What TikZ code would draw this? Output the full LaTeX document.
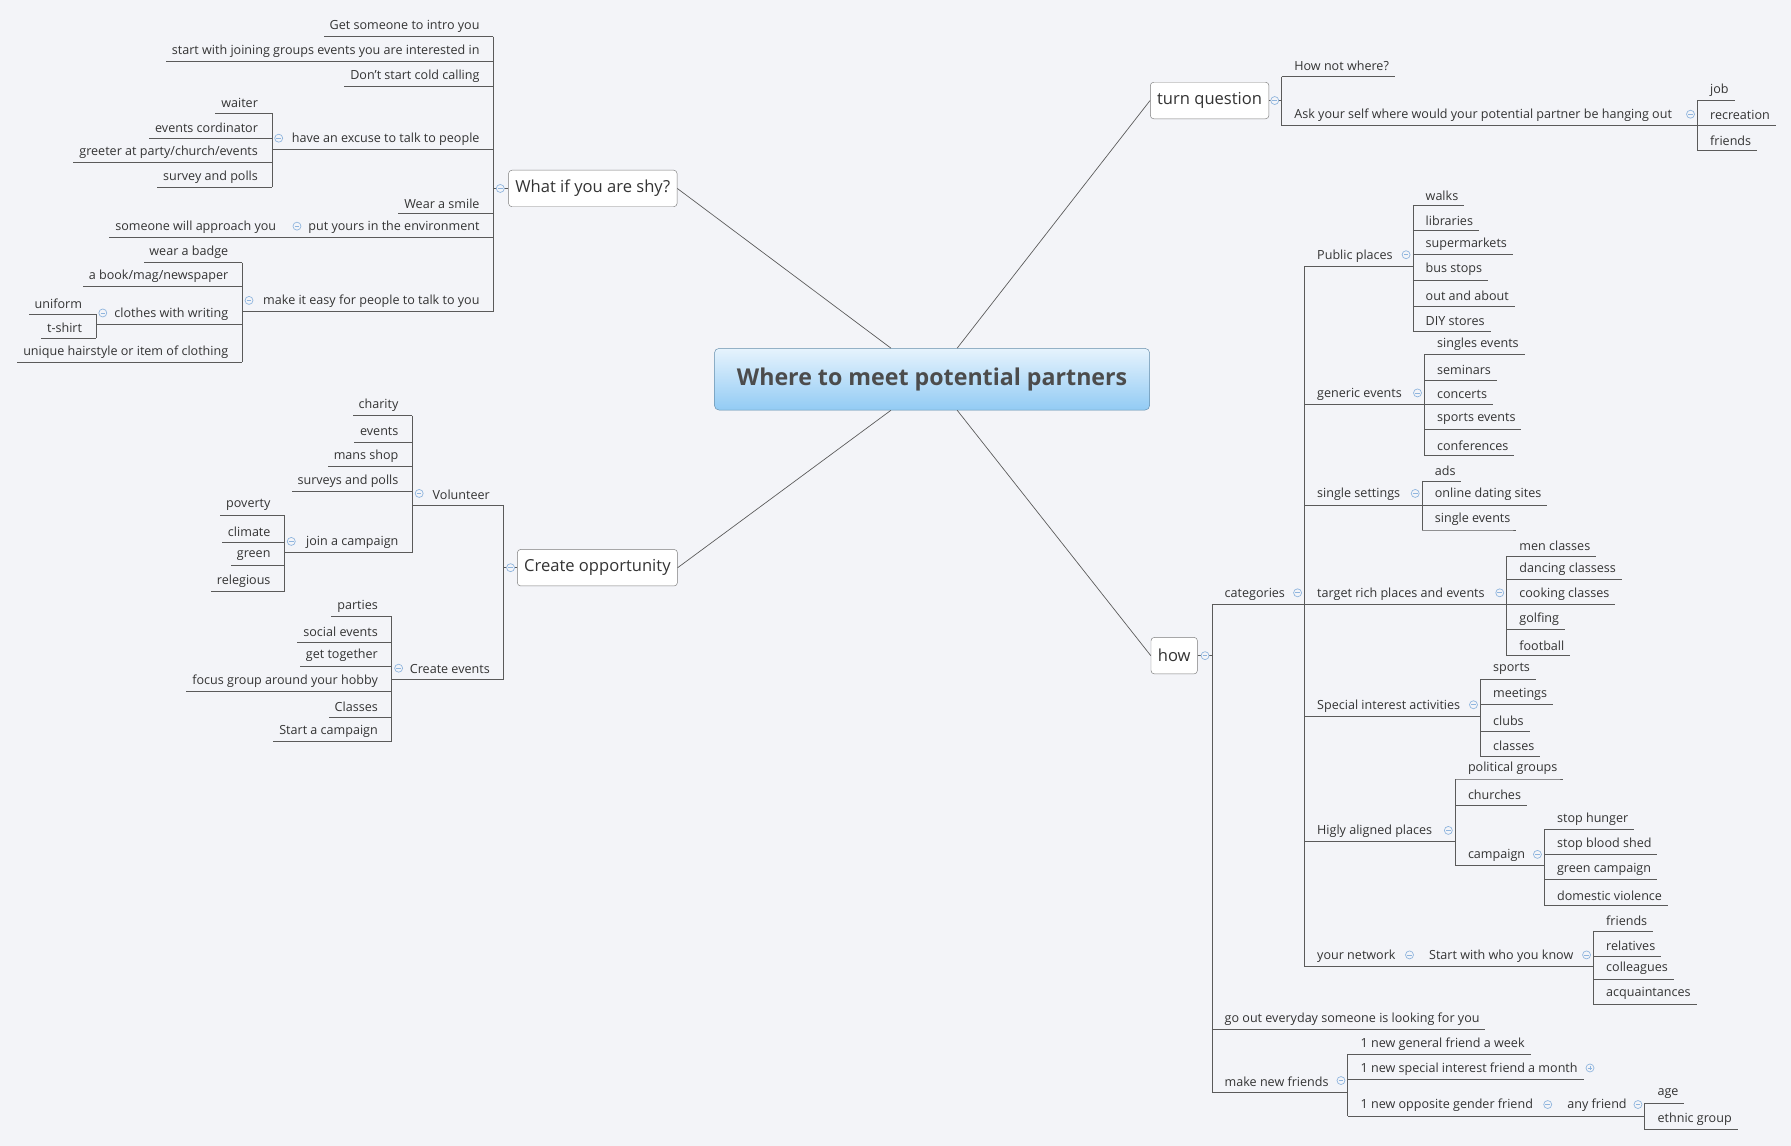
\documentclass[tikz,border=0pt]{standalone}
\usepackage{fontspec}
\setmainfont{Open Sans}
\definecolor{bg}{HTML}{F3F4F8}
\definecolor{ln}{HTML}{5A5A5A}
\definecolor{tx}{HTML}{333333}
\definecolor{icb}{HTML}{8FB5DE}
\definecolor{rtop}{HTML}{E6F3FD}
\definecolor{rbot}{HTML}{92CBF4}
\tikzset{
 lf/.style={inner sep=0pt,text=tx,font=\fontsize{11}{13}\selectfont},
 lnk/.style={draw=ln,line width=0.6pt},
 bx/.style={draw=ln!80,fill=white,rounded corners=3pt,text=tx,font=\fontsize{14.5}{17}\selectfont,minimum height=32pt,inner xsep=6pt},
 icon/.style={draw=icb,fill=bg,line width=0.6pt}
}
\newcommand\IC[2]{\draw[icon] (#1,#2) circle (3.5); \draw[icb,line width=0.6pt] (#1-2,#2) -- (#1+2,#2);}
\newcommand\RN[4]{\node[lf,anchor=west] (#1) at (#2+11,#3+1) {#4};
 \coordinate (#1u) at (#2,#3+10);
 \draw[lnk] (#1u) -- (#1.east |- #1u) -- ++(5,0);}
\newcommand\LN[4]{\node[lf,anchor=east] (#1) at (#2-12,#3+1) {#4};
 \coordinate (#1u) at (#2,#3+10);
 \draw[lnk] (#1u) -- (#1.west |- #1u) -- ++(-5,0);}
\newcommand\RP[5]{\node[lf,anchor=west] (#1) at (#2+11,#3+1) {#4};
 \coordinate (#1u) at (#2,#3+10);
 \draw[lnk] (#1u) -- (#5,#3+10);\IC{#5-6}{#3}}
\newcommand\LP[5]{\node[lf,anchor=east] (#1) at (#2-12,#3+1) {#4};
 \coordinate (#1u) at (#2,#3+10);
 \draw[lnk] (#1u) -- (#5,#3+10);\IC{#5+6}{#3}}
\begin{document}
\begin{tikzpicture}[x=1pt,y=-1pt]
\fill[bg] (0,0) rectangle (1568,1003);
\useasboundingbox (0,0) rectangle (1568,1003);
% root
\node[draw=rbot!70!black,rounded corners=4pt,top color=rtop,bottom color=rbot,minimum width=381pt,minimum height=54pt,text=black!70,font=\fontsize{20.3}{24}\selectfont\bfseries] (root) at (816,332) {Where to meet potential partners};
\node[bx] (tq) at (1059,88) {turn question};
\node[bx] (how) at (1028,574) {how};
\node[bx] (shy) at (519,165) {What if you are shy?};
\node[bx] (co) at (523,497) {Create opportunity};
\draw[lnk] ([xshift=-36pt]root.north) -- (shy.east);
\draw[lnk] ([xshift=22pt]root.north) -- (tq.west);
\draw[lnk] ([xshift=-36pt]root.south) -- (co.east);
\draw[lnk] ([xshift=22pt]root.south) -- (how.west);
% turn question
\draw[lnk] (tq.east) -- (1122,88); \IC{1116}{88}
\RN{hnw}{1122}{57}{How not where?}
\RP{ask}{1122}{100}{Ask your self where would your potential partner be hanging out}{1486}
\draw[lnk] (hnwu) -- (asku);
\RN{job}{1486}{78}{job}
\RN{rec}{1486}{100}{recreation}
\RN{fr}{1486}{122}{friends}
\draw[lnk] (jobu) -- (fru);
% how
\draw[lnk] (how.east) -- (1061,574); \IC{1055}{574}
\RP{cat}{1061}{519}{categories}{1142}
\RN{go}{1061}{891}{go out everyday someone is looking for you}
\RP{mnf}{1061}{946}{make new friends}{1180}
\draw[lnk] (catu) -- (mnfu);
\RP{pp}{1142}{223}{Public places}{1237}
\RP{ge}{1142}{344}{generic events}{1247}
\RP{ss}{1142}{432}{single settings}{1245}
\RP{tr}{1142}{519}{target rich places and events}{1319}
\RP{si}{1142}{617}{Special interest activities}{1296}
\RP{ha}{1142}{727}{Higly aligned places}{1274}
\RP{yn}{1142}{836}{your network}{1240}
\draw[lnk] (ppu) -- (ynu);
\RN{p1}{1237}{170}{walks}\RN{p2}{1237}{192}{libraries}\RN{p3}{1237}{213}{supermarkets}
\RN{p4}{1237}{235}{bus stops}\RN{p5}{1237}{258}{out and about}\RN{p6}{1237}{280}{DIY stores}
\draw[lnk] (p1u) -- (p6u);
\RN{g1}{1247}{300}{singles events}\RN{g2}{1247}{323}{seminars}\RN{g3}{1247}{344}{concerts}
\RN{g4}{1247}{366}{sports events}\RN{g5}{1247}{389}{conferences}
\draw[lnk] (g1u) -- (g5u);
\RN{s1}{1245}{411}{ads}\RN{s2}{1245}{432}{online dating sites}\RN{s3}{1245}{454}{single events}
\draw[lnk] (s1u) -- (s3u);
\RN{t1}{1319}{477}{men classes}\RN{t2}{1319}{497}{dancing classess}\RN{t3}{1319}{519}{cooking classes}
\RN{t4}{1319}{541}{golfing}\RN{t5}{1319}{564}{football}
\draw[lnk] (t1u) -- (t5u);
\RN{i1}{1296}{585}{sports}\RN{i2}{1296}{607}{meetings}\RN{i3}{1296}{630}{clubs}\RN{i4}{1296}{652}{classes}
\draw[lnk] (i1u) -- (i4u);
\RN{h1}{1274}{672}{political groups}\RN{h2}{1274}{695}{churches}
\RP{h3}{1274}{748}{campaign}{1352}
\draw[lnk] (h1u) -- (h3u);
\RN{c1}{1352}{716}{stop hunger}\RN{c2}{1352}{738}{stop blood shed}\RN{c3}{1352}{760}{green campaign}\RN{c4}{1352}{783}{domestic violence}
\draw[lnk] (c1u) -- (c4u);
\RP{sw}{1240}{836}{Start with who you know}{1395}
\RN{n1}{1395}{805}{friends}\RN{n2}{1395}{827}{relatives}\RN{n3}{1395}{847}{colleagues}\RN{n4}{1395}{869}{acquaintances}
\draw[lnk] (n1u) -- (n4u);
\RN{m1}{1180}{913}{1 new general friend a week}
\RN{m2}{1180}{935}{1 new special interest friend a month}
\draw[icon] (1392,935) circle (3.5); \draw[icb,line width=0.6pt] (1390,935) -- (1394,935) (1392,933) -- (1392,937);
\RP{m3}{1180}{967}{1 new opposite gender friend}{1361}
\draw[lnk] (m1u) -- (m3u);
\RP{af}{1361}{967}{any friend}{1440}
\RN{a1}{1440}{956}{age}\RN{a2}{1440}{979}{ethnic group}
\draw[lnk] (a1u) -- (a2u);
% shy
\draw[lnk] (shy.west) -- (432,165); \IC{438}{165}
\LN{gs}{432}{22}{Get someone to intro you}
\LN{sj}{432}{44}{start with joining groups events you are interested in}
\LN{dc}{432}{66}{Don't start cold calling}
\LP{ex}{432}{121}{have an excuse to talk to people}{238}
\LN{ws}{432}{177}{Wear a smile}
\LP{pe}{432}{198}{put yours in the environment}{254}
\LP{me}{432}{263}{make it easy for people to talk to you}{212}
\draw[lnk] (gsu) -- (meu);
\LN{e1}{238}{89}{waiter}\LN{e2}{238}{111}{events cordinator}\LN{e3}{238}{132}{greeter at party/church/events}\LN{e4}{238}{154}{survey and polls}
\draw[lnk] (e1u) -- (e4u);
\LN{sa}{254}{198}{someone will approach you}
\LN{k1}{212}{220}{wear a badge}\LN{k2}{212}{241}{a book/mag/newspaper}
\LP{cw}{212}{274}{clothes with writing}{84}
\LN{k4}{212}{307}{unique hairstyle or item of clothing}
\draw[lnk] (k1u) -- (k4u);
\LN{u1}{84}{265}{uniform}\LN{u2}{84}{286}{t-shirt}
\draw[lnk] (u1u) -- (u2u);
% create opportunity
\draw[lnk] (co.west) -- (441,497); \IC{447}{497}
\LP{vol}{441}{432}{Volunteer}{361}
\LP{ce}{441}{585}{Create events}{343}
\draw[lnk] (volu) -- (ceu);
\LN{v1}{361}{354}{charity}\LN{v2}{361}{377}{events}\LN{v3}{361}{398}{mans shop}\LN{v4}{361}{420}{surveys and polls}
\LP{jc}{361}{474}{join a campaign}{249}
\draw[lnk] (v1u) -- (jcu);
\LN{j1}{249}{441}{poverty}\LN{j2}{249}{465}{climate}\LN{j3}{249}{485}{green}\LN{j4}{249}{508}{relegious}
\draw[lnk] (j1u) -- (j4u);
\LN{x1}{343}{530}{parties}\LN{x2}{343}{552}{social events}\LN{x3}{343}{573}{get together}
\LN{x4}{343}{595}{focus group around your hobby}\LN{x5}{343}{618}{Classes}\LN{x6}{343}{639}{Start a campaign}
\draw[lnk] (x1u) -- (x6u);
\end{tikzpicture}
\end{document}
